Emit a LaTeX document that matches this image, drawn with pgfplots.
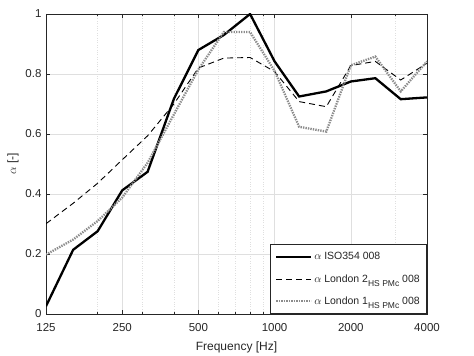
\documentclass[border=0pt]{standalone}
\usepackage{pgfplots}
\pgfplotsset{compat=1.18}
\usepackage{fontspec}
\setmainfont{Liberation Sans}
\definecolor{axgray}{HTML}{262626}
\definecolor{dotgray}{HTML}{8C8C8C}
\newcommand{\sub}[1]{\raisebox{-4pt}{\fontsize{8.5}{9}\selectfont #1}}
\pgfplotstableread{
f iso lon2 lon1
125  0.026 0.301 0.198
160  0.214 0.369 0.248
200  0.276 0.436 0.310
250  0.412 0.514 0.388
315  0.474 0.594 0.504
400  0.717 0.700 0.665
500  0.880 0.820 0.815
630  0.930 0.853 0.940
800  1.000 0.855 0.940
1000 0.842 0.808 0.810
1250 0.725 0.708 0.624
1600 0.742 0.691 0.608
2000 0.775 0.828 0.829
2500 0.786 0.842 0.858
3150 0.716 0.780 0.742
4000 0.722 0.836 0.842
}\datatable
\begin{document}
\begin{tikzpicture}
\begin{axis}[
  name=ax,
  scale only axis, width=381pt, height=300pt,
  xmode=log,
  xmin=125, xmax=4000, ymin=0, ymax=1,
  xtick={125,250,500,1000,2000,4000},
  xticklabels={125,250,500,1000,2000,4000},
  minor xtick={200,300,400,600,700,800,900,3000},
  ytick={0,0.2,0.4,0.6,0.8,1},
  yticklabels={0,0.2,0.4,0.6,0.8,1},
  grid=both,
  major grid style={gray!25, line width=0.4pt},
  minor grid style={gray!25, line width=0.4pt, dotted},
  axis line style={axgray, line width=0.6pt},
  tick style={axgray, line width=0.5pt},
  major tick length=4pt, minor tick length=2pt,
  tick align=inside,
  ticklabel style={font=\fontsize{11.5}{13}\selectfont, text=axgray},
  xticklabel style={yshift=-6pt},
  yticklabel style={xshift=-1pt},
  label style={font=\fontsize{12}{14}\selectfont, text=axgray},
  xlabel={Frequency [Hz]},
  ylabel={$\alpha$ [-]},
  xlabel style={at={(axis description cs:0.5,-0.11)}, anchor=center},
  ylabel style={at={(axis description cs:-0.0866,0.5)}, anchor=center},
  legend style={at={(1,0)}, anchor=south east, draw=axgray, line width=0.6pt,
    fill=white, font=\fontsize{10.5}{12}\selectfont, text=axgray,
    inner xsep=5pt, inner ysep=6pt, row sep=9pt},
  legend cell align=left,
  legend image code/.code={\draw[#1] (0pt,0pt) -- (35pt,0pt);},
]
\addplot[black, line width=2.3pt] table[x=f, y=iso] {\datatable};
\addlegendentry{$\alpha$ ISO354 008}
\addplot[black, line width=0.9pt, dash pattern=on 6pt off 4pt] table[x=f, y=lon2] {\datatable};
\addlegendentry{$\alpha$ London 2\sub{HS PMc} 008}
\addplot[dotgray, line width=2.3pt, dash pattern=on 1.4pt off 1.1pt] table[x=f, y=lon1] {\datatable};
\addlegendentry{$\alpha$ London 1\sub{HS PMc} 008}
\end{axis}
\path (ax.south west) ++(-46pt,-42pt) coordinate (bl);
\path (ax.north east) ++(47pt,14pt) coordinate (tr);
\path[use as bounding box] (bl) rectangle (tr);
\end{tikzpicture}
\end{document}
